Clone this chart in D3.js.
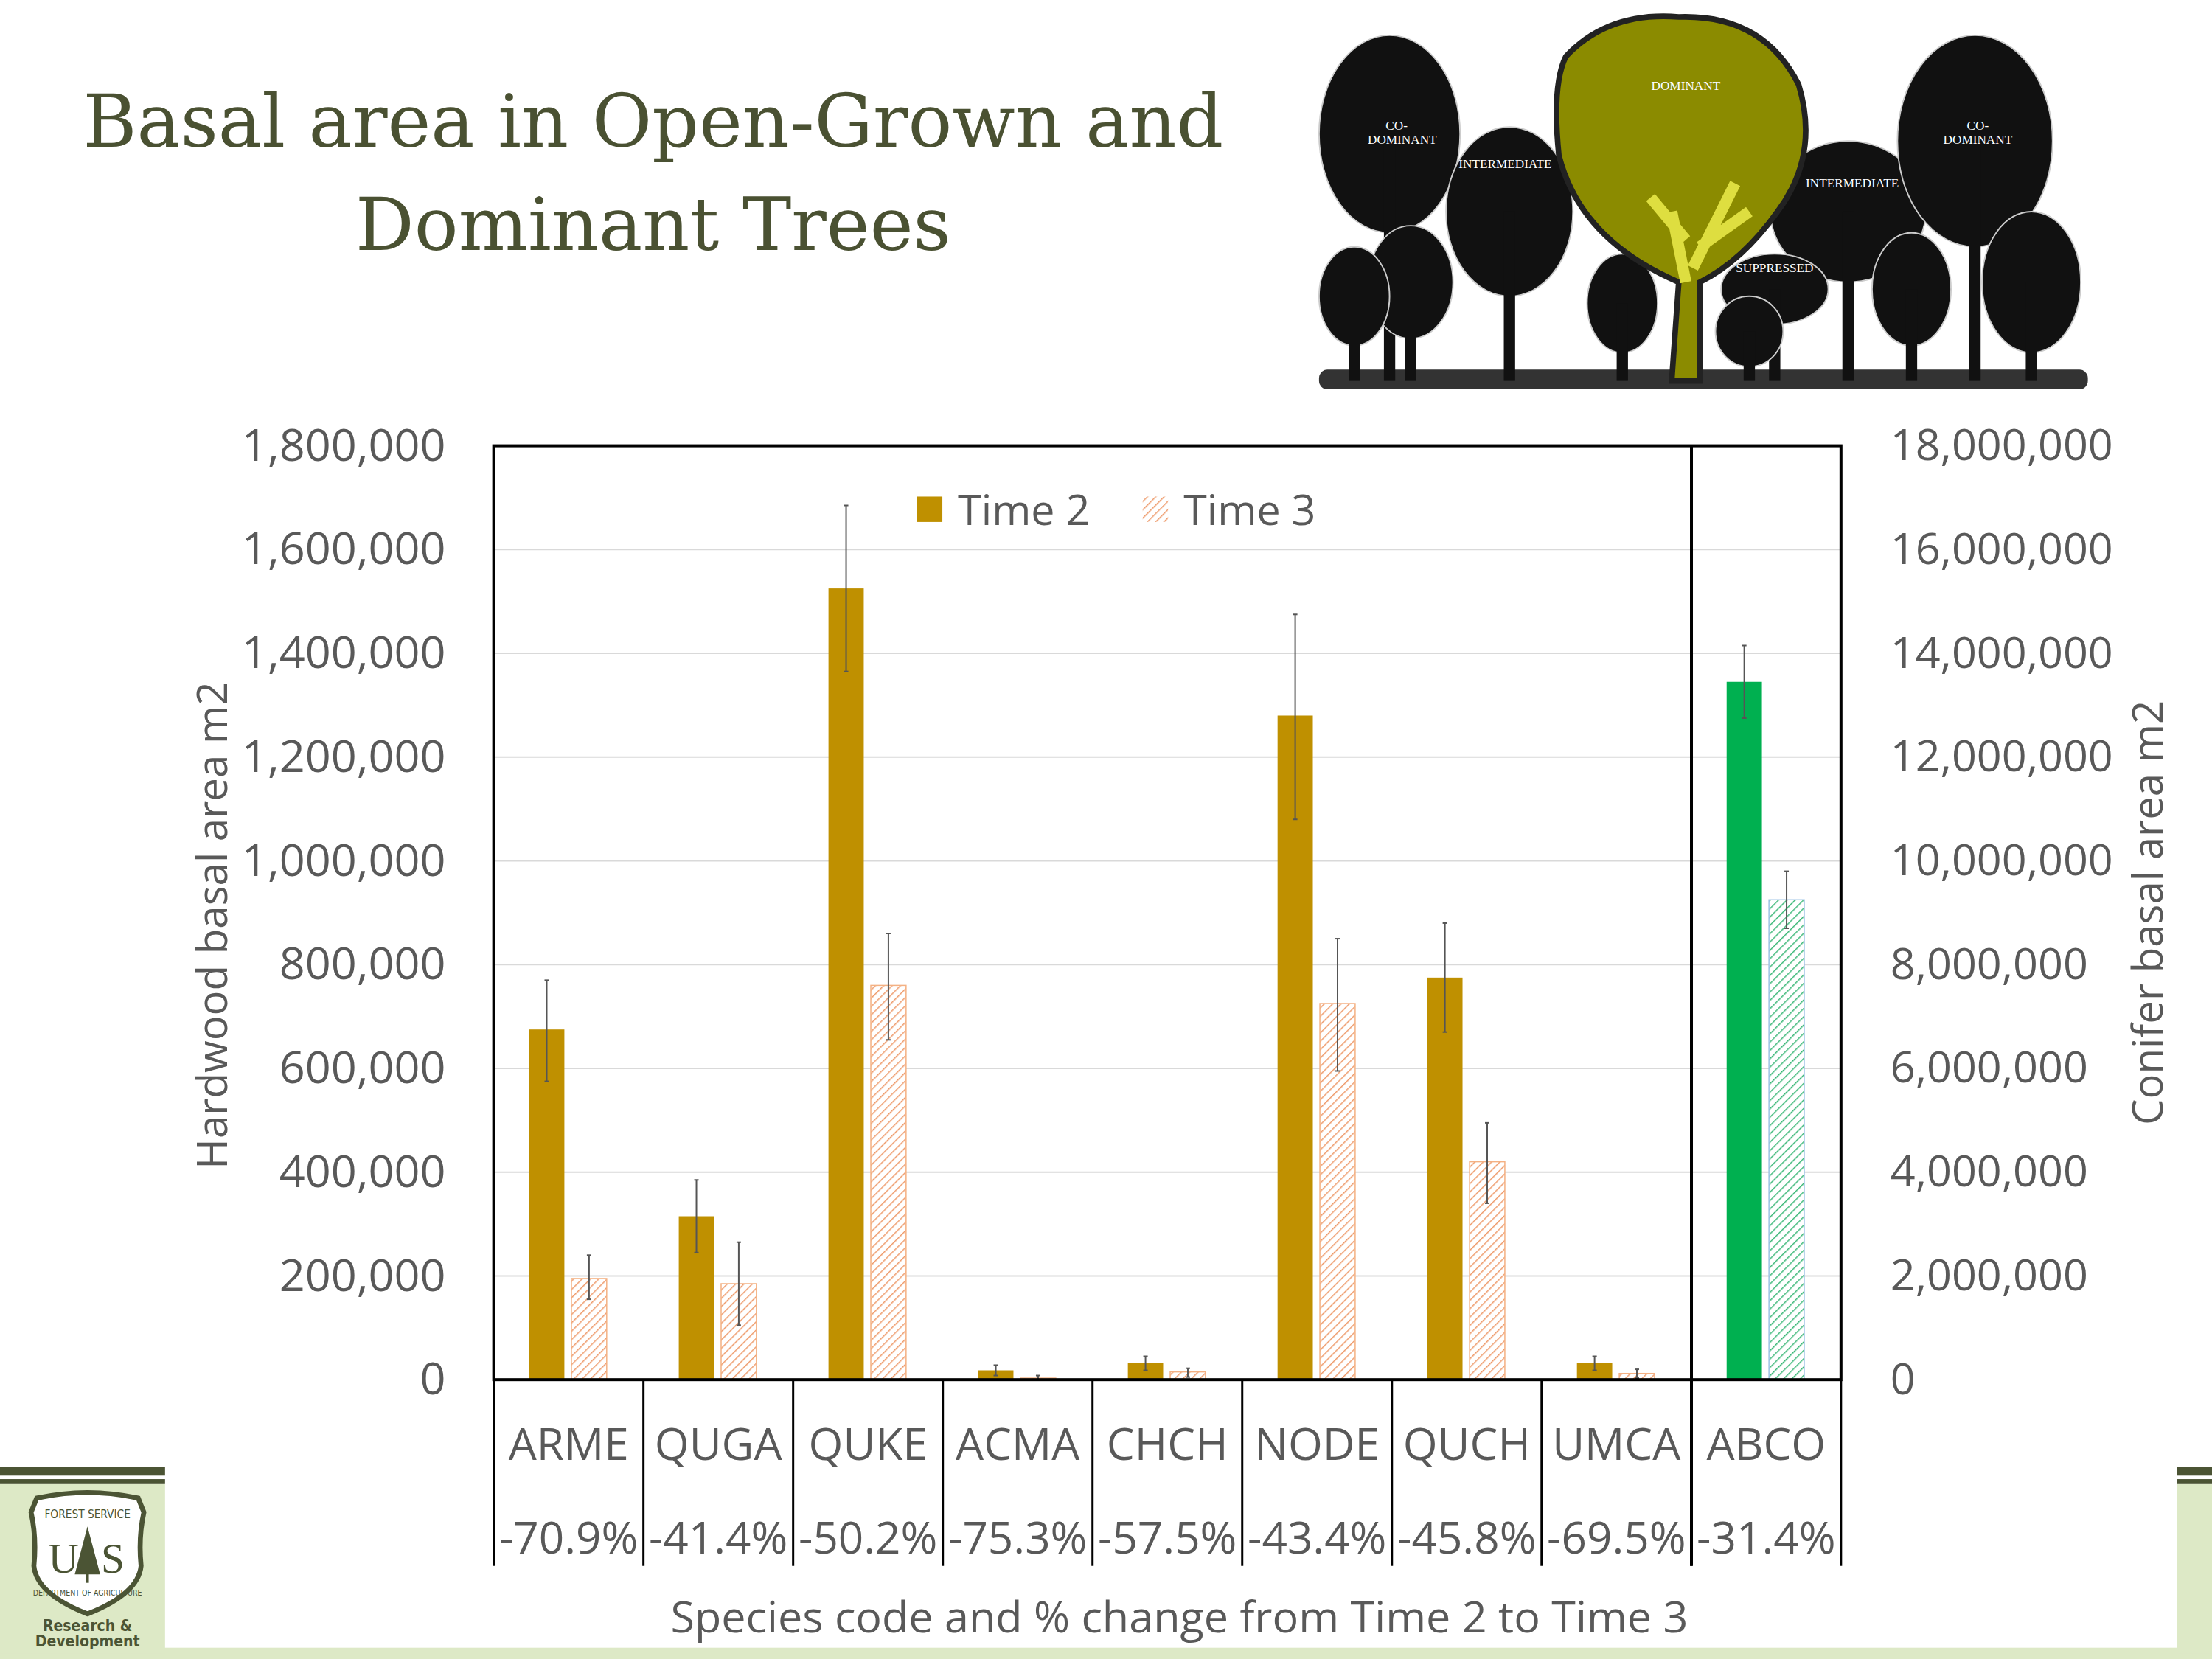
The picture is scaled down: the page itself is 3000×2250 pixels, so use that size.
<!DOCTYPE html>
<html><head><meta charset="utf-8">
<script src="https://cdn.jsdelivr.net/npm/d3@7"></script>
<style>body{margin:0;background:#fff}svg{display:block}</style>
</head><body>
<script>
// data
var species=['ARME','QUGA','QUKE','ACMA','CHCH','NODE','QUCH','UMCA','ABCO'];
var pctChange=['-70.9%','-41.4%','-50.2%','-75.3%','-57.5%','-43.4%','-45.8%','-69.5%','-31.4%'];
var time2=[675000,315000,1525000,18000,32000,1280000,775000,32000,13450000];
var time3=[195000,185000,760000,3000,15000,725000,420000,12000,9250000];
var err2Lo=[575000,245000,1365000,8000,18000,1080000,670000,18000,12750000];
var err2Hi=[770000,385000,1685000,28000,45000,1475000,880000,45000,14150000];
var err3Lo=[155000,105000,655000,0,5000,595000,340000,3000,8700000];
var err3Hi=[240000,265000,860000,8000,22000,850000,495000,20000,9800000];
var conifer=['ABCO'];
var leftTicks=d3.range(0,1800001,200000);
var rightTicks=d3.range(0,18000001,2000000);

var W=3000,H=2250,k=3000/1568;
var svg=d3.select('body').append('svg').attr('width',W).attr('height',H);
var defs=svg.append('defs');
function hatch(id,col){
  var p=defs.append('pattern').attr('id',id).attr('patternUnits','userSpaceOnUse')
    .attr('width',8).attr('height',8).attr('patternTransform','rotate(45)');
  p.append('rect').attr('width',8).attr('height',8).attr('fill','#fff');
  p.append('line').attr('x1',0).attr('y1',0).attr('x2',0).attr('y2',8).attr('stroke',col).attr('stroke-width',3);
}
hatch('hOr','#ee9a6a');hatch('hGr','#3cb878');

// slide furniture
var dk='#4b5434',lt='#dde9c6';
svg.append('rect').attr('x',0).attr('y',1168*k).attr('width',W).attr('height',H-1168*k).attr('fill',lt);
svg.append('rect').attr('x',0).attr('y',1052*k).attr('width',117*k).attr('height',120*k).attr('fill',lt);
svg.append('rect').attr('x',1543*k).attr('y',1052*k).attr('width',W).attr('height',120*k).attr('fill',lt);
[[1040,6],[1048.5,3]].forEach(function(s){
  svg.append('rect').attr('x',0).attr('y',s[0]*k).attr('width',117*k).attr('height',s[1]*k).attr('fill',dk);
  svg.append('rect').attr('x',1543*k).attr('y',s[0]*k).attr('width',W).attr('height',s[1]*k).attr('fill',dk);
});
// forest service shield
var lg=svg.append('g').attr('transform','translate('+(62*k)+','+(1100*k)+') scale('+k+')');
lg.append('path').attr('d','M-36,-38 Q0,-46 36,-38 L40,-28 Q36,-10 38,10 Q36,30 0,44 Q-36,30 -38,10 Q-36,-10 -40,-28 Z')
  .attr('fill','#fff').attr('stroke',dk).attr('stroke-width',3.5);
lg.append('text').attr('y',-24).attr('text-anchor','middle').attr('font-size',8).attr('fill',dk).attr('font-family','DejaVu Sans Condensed').text('FOREST SERVICE');
lg.append('text').attr('x',-17).attr('y',15).attr('text-anchor','middle').attr('font-size',30).attr('fill',dk).attr('font-family','Liberation Sans Narrow').text('U');
lg.append('text').attr('x',18).attr('y',15).attr('text-anchor','middle').attr('font-size',30).attr('fill',dk).attr('font-family','Liberation Sans Narrow').text('S');
lg.append('path').attr('d','M0,-18 L9,16 L-9,16 Z').attr('fill',dk);
lg.append('rect').attr('x',-1).attr('y',14).attr('width',2).attr('height',8).attr('fill',dk);
lg.append('text').attr('y',31).attr('text-anchor','middle').attr('font-size',5.5).attr('fill',dk).attr('font-family','DejaVu Sans Condensed').text('DEPARTMENT OF AGRICULTURE');
lg.append('text').attr('y',56).attr('text-anchor','middle').attr('font-size',11).attr('font-weight','bold').attr('fill',dk).attr('font-family','DejaVu Sans Condensed').text('Research &');
lg.append('text').attr('y',67).attr('text-anchor','middle').attr('font-size',11).attr('font-weight','bold').attr('fill',dk).attr('font-family','DejaVu Sans Condensed').text('Development');

// title
var tt=svg.append('text').attr('text-anchor','middle').attr('font-family','DejaVu Serif, serif')
  .attr('font-size',52*k).attr('fill','#4a5132');
tt.append('tspan').attr('x',463*k).attr('y',104*k).text('Basal area in Open-Grown and');
tt.append('tspan').attr('x',463*k).attr('y',177*k).text('Dominant Trees');

// crown class illustration (simplified)
var tg=svg.append('g').attr('transform','scale('+k+')');
tg.append('rect').attr('x',935).attr('y',262).attr('width',545).attr('height',14).attr('rx',6).attr('fill','#333');
var crowns=[[985,95,50,70],[1070,150,45,60],[1000,200,30,40],[1310,150,55,50],[1400,100,55,75],[1258,205,38,25],[1355,205,28,40],[1440,200,35,50],[960,210,25,35],[1150,215,25,35],[1240,235,24,25]];
crowns.forEach(function(c){
  tg.append('ellipse').attr('cx',c[0]).attr('cy',c[1]).attr('rx',c[2]).attr('ry',c[3]).attr('fill','#111').attr('stroke','#ccc').attr('stroke-width',1);
  tg.append('rect').attr('x',c[0]-4).attr('y',c[1]).attr('width',8).attr('height',270-c[1]).attr('fill','#111');
});
tg.append('path').attr('d','M1185,270 L1190,200 Q1120,170 1105,110 Q1100,60 1110,40 Q1140,8 1190,12 Q1250,10 1275,60 Q1290,110 1260,150 Q1235,185 1205,200 L1205,270 Z')
  .attr('fill','#8b8b00').attr('stroke','#222').attr('stroke-width',4);
tg.append('path').attr('d','M1195,200 L1185,150 M1200,190 L1230,130 M1195,170 L1170,140 M1205,175 L1240,150').attr('stroke','#dede40').attr('stroke-width',8);
[['DOMINANT',1195,64],['CO-',990,92],['DOMINANT',994,102],['INTERMEDIATE',1067,119],['INTERMEDIATE',1313,133],['SUPPRESSED',1258,193],['CO-',1402,92],['DOMINANT',1402,102]].forEach(function(t){
  tg.append('text').attr('x',t[1]).attr('y',t[2]).attr('text-anchor','middle').attr('font-size',9).attr('fill','#fff').attr('font-family','Liberation Serif').text(t[0]);
});

// chart
var pL=350*k,pR=1305*k,pT=316*k,base=978*k,div=1199*k,tabBot=1110*k;
var y=d3.scaleLinear().domain([0,1800000]).range([base,pT]);
var y2=d3.scaleLinear().domain([0,18000000]).range([base,pT]);
var x=d3.scaleBand().domain(species).range([pL,pR]);
var font='Open Sans, Noto Sans, sans-serif', grey='#595959';
svg.append('g').selectAll('line').data(leftTicks.slice(1)).join('line')
  .attr('x1',pL).attr('x2',pR).attr('y1',function(d){return y(d)}).attr('y2',function(d){return y(d)})
  .attr('stroke','#d9d9d9').attr('stroke-width',2);
var ax=svg.append('g').attr('transform','translate('+(316*k)+',0)')
  .call(d3.axisLeft(y).tickValues(leftTicks).tickFormat(d3.format(',')).tickSize(0));
ax.select('.domain').remove();
ax.selectAll('text').attr('font-size',32*k).attr('font-family',font).attr('fill',grey).attr('x',0);
var ax2=svg.append('g').attr('transform','translate('+(1340*k)+',0)')
  .call(d3.axisRight(y2).tickValues(rightTicks).tickFormat(d3.format(',')).tickSize(0));
ax2.select('.domain').remove();
ax2.selectAll('text').attr('font-size',31*k).attr('font-family',font).attr('fill',grey).attr('x',0);

var bw=25*k, g=svg.append('g');
species.forEach(function(s,i){
  var isC=conifer.indexOf(s)>=0, sc=isC?y2:y, cx=x(s)+x.bandwidth()/2;
  g.append('rect').attr('x',cx-bw-3*k).attr('y',sc(time2[i])).attr('width',bw).attr('height',base-sc(time2[i]))
    .attr('fill',isC?'#00b050':'#bf9000');
  g.append('rect').attr('x',cx+2*k).attr('y',sc(time3[i])).attr('width',bw).attr('height',base-sc(time3[i]))
    .attr('fill',isC?'url(#hGr)':'url(#hOr)').attr('stroke',isC?'#9dc3e6':'#f4b183').attr('stroke-width',1.5);
  [[cx-bw/2-3*k,err2Lo[i],err2Hi[i]],[cx+bw/2+2*k,err3Lo[i],err3Hi[i]]].forEach(function(e){
    g.append('line').attr('x1',e[0]).attr('x2',e[0]).attr('y1',sc(e[1])).attr('y2',sc(e[2])).attr('stroke','#555').attr('stroke-width',2);
    [e[1],e[2]].forEach(function(v){g.append('line').attr('x1',e[0]-3).attr('x2',e[0]+3).attr('y1',sc(v)).attr('y2',sc(v)).attr('stroke','#555').attr('stroke-width',2);});
  });
});
// frame and table
svg.append('rect').attr('x',pL).attr('y',pT).attr('width',pR-pL).attr('height',base-pT).attr('fill','none').attr('stroke','#000').attr('stroke-width',4);
svg.append('line').attr('x1',div).attr('x2',div).attr('y1',pT).attr('y2',tabBot).attr('stroke','#000').attr('stroke-width',4);
svg.append('g').selectAll('line').data(species.map(function(s){return x(s)}).concat([pR])).join('line')
  .attr('x1',function(d){return d}).attr('x2',function(d){return d}).attr('y1',base).attr('y2',tabBot)
  .attr('stroke','#000').attr('stroke-width',3);
species.forEach(function(s,i){
  var cx=x(s)+x.bandwidth()/2;
  svg.append('text').attr('x',cx).attr('y',1035*k).attr('text-anchor','middle').attr('font-size',31.5*k).attr('font-family',font).attr('fill',grey).text(s);
  svg.append('text').attr('x',cx).attr('y',1101*k).attr('text-anchor','middle').attr('font-size',31.5*k).attr('font-family',font).attr('fill',grey).text(pctChange[i]);
});
svg.append('text').attr('x',836*k).attr('y',1157*k).attr('text-anchor','middle').attr('font-size',31*k).attr('font-family',font).attr('fill',grey).text('Species code and % change from Time 2 to Time 3');
svg.append('text').attr('transform','translate('+(161*k)+','+(656*k)+') rotate(-90)').attr('text-anchor','middle').attr('font-size',29.5*k).attr('font-family',font).attr('fill',grey).text('Hardwood basal area m2');
svg.append('text').attr('transform','translate('+(1533*k)+','+(647*k)+') rotate(-90)').attr('text-anchor','middle').attr('font-size',29.5*k).attr('font-family',font).attr('fill',grey).text('Conifer basal area m2');
// legend
var lgd=[['Time 2','#bf9000',650],['Time 3','url(#hOr)',810]];
lgd.forEach(function(l){
  svg.append('rect').attr('x',l[2]*k).attr('y',352*k).attr('width',18*k).attr('height',18*k).attr('fill',l[1]);
  svg.append('text').attr('x',(l[2]+29)*k).attr('y',372*k).attr('font-size',30*k).attr('font-family',font).attr('fill',grey).text(l[0]);
});
</script>
</body></html>
